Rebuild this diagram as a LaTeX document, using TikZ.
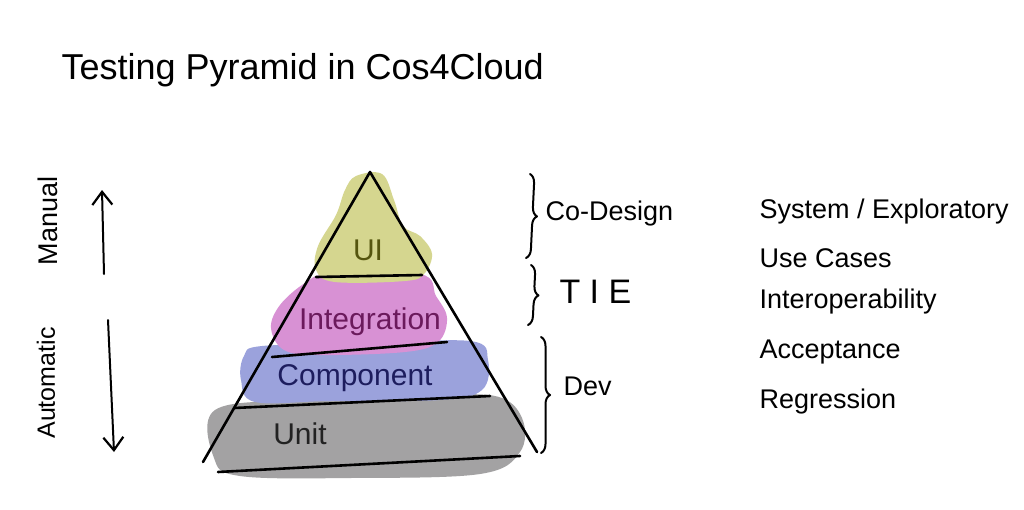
\documentclass[tikz,border=0pt]{standalone}
\usepackage{fontspec}
\setmainfont{Liberation Sans}
\usetikzlibrary{decorations.pathreplacing, arrows.meta}

\definecolor{uifill}{HTML}{D5D68F}
\definecolor{uitext}{HTML}{55550F}
\definecolor{intfill}{HTML}{D891D4}
\definecolor{inttext}{HTML}{6B1A5C}
\definecolor{compfill}{HTML}{9BA2DC}
\definecolor{comptext}{HTML}{1D1D5E}
\definecolor{unitfill}{HTML}{A3A2A3}
\definecolor{unittext}{HTML}{222222}

\tikzset{
  pen/.style={line width=2.6pt, line cap=round, line join=round},
  layertext/.style={font=\fontsize{30}{32}\selectfont},
  sidetext/.style={font=\fontsize{27}{30}\selectfont, anchor=west},
  bracetext/.style={font=\fontsize{27}{30}\selectfont, anchor=west},
  curly/.style={pen, line width=2pt, decorate, decoration={brace, amplitude=9pt}},
  hand arrow/.style={pen, line width=2pt, -{Straight Barb[length=13pt, width=20pt, line width=2.2pt]}}
}

\begin{document}
\begin{tikzpicture}[x=1pt, y=-1pt]
        \useasboundingbox[fill=white] (0, 0) rectangle (1024, 509);

        % title
        \node[font=\fontsize{36}{38}\selectfont, anchor=west] (title) at (58, 70) {Testing Pyramid in Cos4Cloud};

        % coloured layers
        \fill[unitfill] plot[smooth cycle, tension=0.6] coordinates {(215, 410) (300, 400) (420, 396) (495, 396) (522, 418) (520, 452) (480, 474) (350, 478) (240, 476) (214, 458)};
        \fill[compfill] plot[smooth cycle, tension=0.6] coordinates {(262, 346) (360, 344) (470, 341) (488, 360) (482, 390) (440, 400) (330, 401) (255, 402) (241, 380) (244, 356)};
        \fill[intfill] plot[smooth cycle, tension=0.6] coordinates {(305, 283) (330, 274) (420, 274) (436, 296) (447, 318) (438, 342) (405, 352) (320, 355) (284, 350) (271, 328) (280, 305)};
        \fill[uifill] plot[smooth cycle, tension=0.6] coordinates {(356, 176) (382, 174) (394, 200) (403, 226) (420, 236) (432, 254) (424, 274) (405, 281) (335, 282) (316, 270) (318, 246) (336, 215) (345, 190)};

        % pyramid
        \coordinate (apex) at (370, 172);
        \coordinate (baseL) at (203, 462);
        \coordinate (baseR) at (537, 452);
        \draw[pen] (baseL) -- (apex) -- (baseR);
        \draw[pen] (316, 277) -- (422, 275);
        \draw[pen] (272, 357) -- (447, 342);
        \draw[pen] (234, 408) -- (490, 396);
        \draw[pen] (218, 472) -- (520, 456);

        \node[layertext, text=uitext] (ui) at (368, 250) {UI};
        \node[layertext, text=inttext] (integration) at (370, 322) {Integration};
        \node[layertext, text=comptext] (component) at (355, 378) {Component};
        \node[layertext, text=unittext] (unit) at (300, 434) {Unit};

        % manual / automatic
        \node[font=\fontsize{27}{30}\selectfont, rotate=90] (manual) at (48, 221) {Manual};
        \node[font=\fontsize{25}{28}\selectfont, rotate=90] (automatic) at (46, 383) {Automatic};
        \coordinate (upS) at (104, 274);
        \coordinate (upE) at (102, 190);
        \coordinate (downS) at (108, 320);
        \coordinate (downE) at (114, 452);
        \draw[hand arrow] (upS) -- (upE);
        \draw[hand arrow] (downS) -- (downE);

        % braces
        \coordinate (cdT) at (530, 174);
        \coordinate (cdB) at (526, 258);
        \coordinate (tieT) at (531, 265);
        \coordinate (tieB) at (528, 325);
        \coordinate (devT) at (541, 337);
        \coordinate (devB) at (541, 453);
        \draw[curly] (cdT) -- (cdB);
        \draw[curly] (tieT) -- (tieB);
        \draw[curly] (devT) -- (devB);

        \node[bracetext] (codesign) at (542, 214) {Co-Design};
        \node[font=\fontsize{34}{36}\selectfont, anchor=west] (tie) at (556, 292) {T I E};
        \node[bracetext] (dev) at (560, 386) {Dev};

        % test kinds
        \node[sidetext] (system) at (756, 212) {System / Exploratory};
        \node[sidetext] (usecases) at (756, 258) {Use Cases};
        \node[sidetext] (interop) at (756, 302) {Interoperability};
        \node[sidetext] (acceptance) at (756, 352) {Acceptance};
        \node[sidetext] (regression) at (756, 402) {Regression};
\end{tikzpicture}
\end{document}
